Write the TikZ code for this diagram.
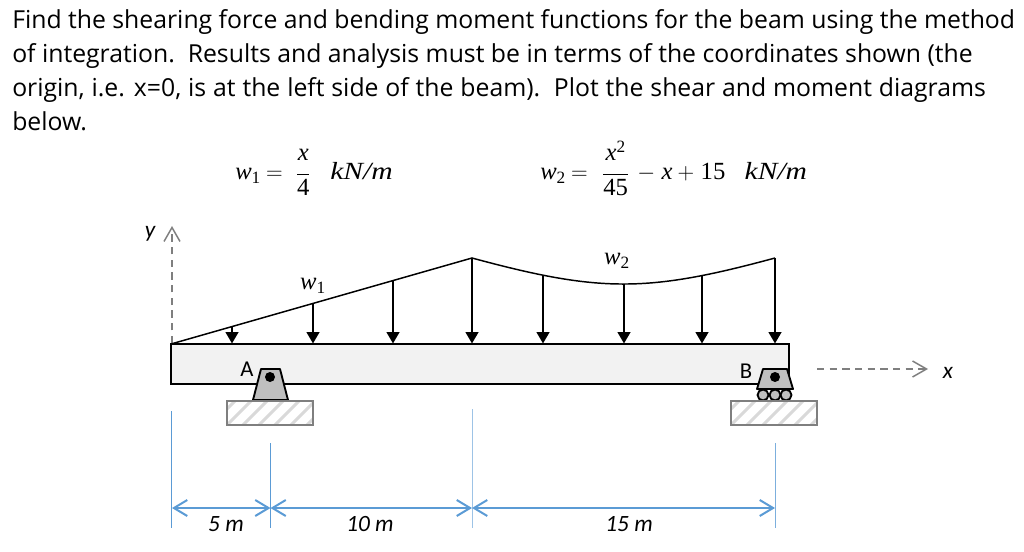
\documentclass[tikz,border=0pt]{standalone}
\usepackage{amsmath}
\usepackage{fontspec}
\setmainfont{Open Sans}
\newfontfamily\lab{Carlito}
\newfontfamily\mf{Liberation Serif}
\newfontfamily\mk[FakeStretch=1.2]{Liberation Serif}
\newcommand{\mi}[1]{\text{\mf\itshape #1}}
\newcommand{\mr}[1]{\text{\mf #1}}
\newcommand{\unitkn}{\text{\mk\itshape kN/m}}
\usetikzlibrary{arrows.meta,patterns}
\definecolor{dimblue}{HTML}{5B9BD5}
\definecolor{beamfill}{HTML}{F2F2F2}
\definecolor{supfill}{HTML}{BFBFBF}
\definecolor{axgray}{HTML}{7F7F7F}
\definecolor{hatchgray}{HTML}{D9D9D9}
\tikzset{
 para/.style={anchor=base west,inner sep=0pt,font=\fontsize{18.58}{20}\selectfont},
 eqn/.style={anchor=base,inner sep=0pt,font=\fontsize{18.5}{20}\selectfont},
 lbl/.style={anchor=base,inner sep=0pt,font=\lab\itshape\fontsize{17.5}{18}\selectfont},
 suplbl/.style={anchor=base,inner sep=0pt,font=\lab\fontsize{17}{18}\selectfont},
 loadarrow/.style={line width=1.4pt,-{Triangle[length=8.5pt,width=9.5pt]}},
 axisline/.style={axgray,line width=1.1pt,dash pattern=on 5.5pt off 4pt,-{Straight Barb[length=10.5pt,width=12pt,line width=1.1pt]}},
 dimln/.style={dimblue,line width=0.7pt},
 dimarrow/.style={dimblue,line width=1.5pt,{Straight Barb[length=10pt,width=12pt]}-{Straight Barb[length=10pt,width=12pt]}},
 hatchln/.style={hatchgray,line width=2.2pt},
 supshape/.style={draw=black,line width=1.4pt,fill=supfill,line join=round},
}
\begin{document}
\begin{tikzpicture}[x=0.75pt,y=-0.75pt]
\useasboundingbox (0,0) rectangle (1024,552);
\node[para] (t1) at (12,28.7) {Find the shearing force and bending moment functions for the beam using the method};
\node[para] (t2) at (12,62.7) {of integration.\ \ Results and analysis must be in terms of the coordinates shown (the};
\node[para] (t3) at (12,96.7) {\spaceskip=5.15pt\relax origin, i.e. x=0, is at the left side of the beam).\ \ Plot the shear and moment diagrams};
\node[para] (t4) at (12,130.7) {below.};
\node[eqn,anchor=base west] (e1) at (235,180) {$\displaystyle \mi{w}_{\mr{1}}\mkern-1mu=\mkern5mu\frac{\raisebox{3pt}{\mi{x}}}{\mr{4}}\ \ \ \unitkn$};
\node[eqn,anchor=base west] (e2) at (540,180) {$\displaystyle \mi{w}_{\mr{2}}\mkern-1mu=\mkern6mu\frac{\raisebox{3pt}{$\mi{x}^{\mr{2}}$}}{\mr{45}}\mkern2mu-\mkern1mu\mi{x}+\mkern1mu\mr{15}\ \ \ \unitkn$};
% axes
\coordinate (yo) at (172,343); \coordinate (yt) at (172,226);
\coordinate (xo) at (817,369); \coordinate (xt) at (928,369);
\draw[axisline] (yo) -- (yt);
\draw[axisline] (xo) -- (xt);
\node[lbl] (ylab) at (150,238) {y};
\node[lbl] (xlab) at (948,378) {x};
% beam
\draw[fill=beamfill,line width=1.6pt] (171,344) rectangle (789,384);
% load outline
\coordinate (p0) at (171,344); \coordinate (p1) at (472,258); \coordinate (p2) at (775,258);
\draw[line width=1.1pt] (p0) -- (p1) .. controls (600,292.7) and (647,292.7) .. (p2);
\foreach \n/\tx/\ty in {a/232/327,b/313/303.5,c/393/280.5,d/472/258,e/543/275,f/624/284,g/702/276,h/775/258}{
 \coordinate (top\n) at (\tx,\ty);
 \coordinate (bot\n) at (\tx,343.5);
 \draw[loadarrow] (top\n) -- (bot\n);
}
\node[eqn] (w1) at (313,290) {$\mi{w}_{\mr{1}}$};
\node[eqn] (w2) at (617,265) {$\mi{w}_{\mr{2}}$};
% supports
\node[suplbl] (A) at (247,376) {A};
\node[suplbl] (B) at (746,378) {B};
\draw[supshape] (261,369) -- (280,369) -- (288,400) -- (253,400) -- cycle;
\fill (270,377) circle[radius=3.75pt];
\foreach \cx in {763,775,786} \draw[supshape] (\cx,395) circle[radius=4.1pt];
\draw[supshape] (763,369) -- (787,369) -- (793,389) -- (757,389) -- cycle;
\fill (775,377) circle[radius=3.75pt];
% grounds
\foreach \gx in {227,731}{
 \begin{scope}
  \clip (\gx,401) rectangle ++(86,24);
  \foreach \d in {-16,0,...,96}\draw[hatchln] (\gx+\d,425) -- ++(24,-24);
 \end{scope}
 \draw[draw=axgray,line width=1.4pt] (\gx,401) rectangle ++(86,24);
}
% dimensions
\coordinate (d0t) at (171.5,411); \coordinate (d0b) at (171.5,528);
\coordinate (d1t) at (270.5,443); \coordinate (d1b) at (270.5,528);
\coordinate (d2t) at (472,409); \coordinate (d2b) at (472,528);
\coordinate (d3t) at (775,443); \coordinate (d3b) at (775,528);
\draw[dimln] (d0t) -- (d0b);
\draw[dimln] (d1t) -- (d1b);
\draw[dimln,opacity=.6] (d2t) -- (d2b);
\draw[dimln,opacity=.8] (d3t) -- (d3b);
\coordinate (m0) at (172,508); \coordinate (m1) at (270.5,508); \coordinate (m2) at (472,508); \coordinate (m3) at (775,508);
\draw[dimarrow] (m0) -- (m1);
\draw[dimarrow] (m1) -- (m2);
\draw[dimarrow] (m2) -- (m3);
\node[lbl] (l5) at (226,531) {5 m};
\node[lbl] (l10) at (370,531) {10 m};
\node[lbl] (l15) at (629,531) {15 m};
\end{tikzpicture}
\end{document}
